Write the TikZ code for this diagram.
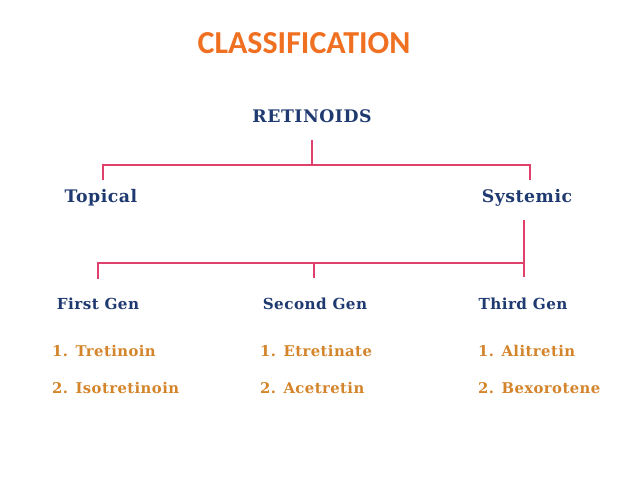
\documentclass[tikz,border=0pt]{standalone}
\usepackage{fontspec}
\setmainfont{DejaVu Serif}
\newfontfamily\slab[LetterSpace=3]{DejaVu Serif}
\newfontfamily\titlefont{Carlito}
\definecolor{navy}{HTML}{1F3A70}
\definecolor{linepink}{HTML}{E0406C}
\definecolor{itemorange}{HTML}{D4842A}
\definecolor{titleorange}{HTML}{F07022}
\begin{document}
\begin{tikzpicture}[x=1pt,y=-1pt,
  head/.style={font=\slab\bfseries\fontsize{17.3}{19}\selectfont, text=navy, inner sep=0pt},
  gen/.style={font=\slab\bfseries\fontsize{15.2}{17}\selectfont, text=navy, inner sep=0pt},
  item/.style={font=\slab\bfseries\fontsize{14.8}{17}\selectfont, text=itemorange, inner sep=0pt, anchor=west},
  conn/.style={draw=linepink, line width=1.2pt}]
\useasboundingbox (0,0) rectangle (638,478);
\fill[white] (0,0) rectangle (638,478);
\node[font=\titlefont\bfseries\fontsize{32}{36}\selectfont, text=titleorange, inner sep=0pt] (title) at (304,43) {CLASSIFICATION};
\node[head] (ret) at (312,116) {RETINOIDS};
\node[head] (top) at (101,198) {Topical};
\node[head] (sys) at (527,198) {Systemic};
\node[gen] (g1) at (98,304) {First Gen};
\node[gen] (g2) at (315,304) {Second Gen};
\node[gen] (g3) at (523,304) {Third Gen};
\node[item] (a1) at (52,351) {1. Tretinoin};
\node[item] (a2) at (52,388) {2. Isotretinoin};
\node[item] (b1) at (260,351) {1. Etretinate};
\node[item] (b2) at (260,388) {2. Acetretin};
\node[item] (c1) at (478,351) {1. Alitretin};
\node[item] (c2) at (478,388) {2. Bexorotene};
% connectors
\coordinate (r1) at (312,140);
\coordinate (rj) at (312,165);
\coordinate (tl) at (103,180);
\coordinate (sl) at (530,180);
\draw[conn] (r1) -- (rj);
\draw[conn] (tl) |- (rj) -| (sl);
\coordinate (s1) at (524,220);
\coordinate (sj) at (524,263);
\coordinate (s2) at (524,277);
\coordinate (g1t) at (98,279);
\coordinate (g2t) at (314,278);
\draw[conn] (s1) -- (s2);
\draw[conn] (g1t) |- (sj);
\draw[conn] (g2t) -- (314,263);
\end{tikzpicture}
\end{document}
